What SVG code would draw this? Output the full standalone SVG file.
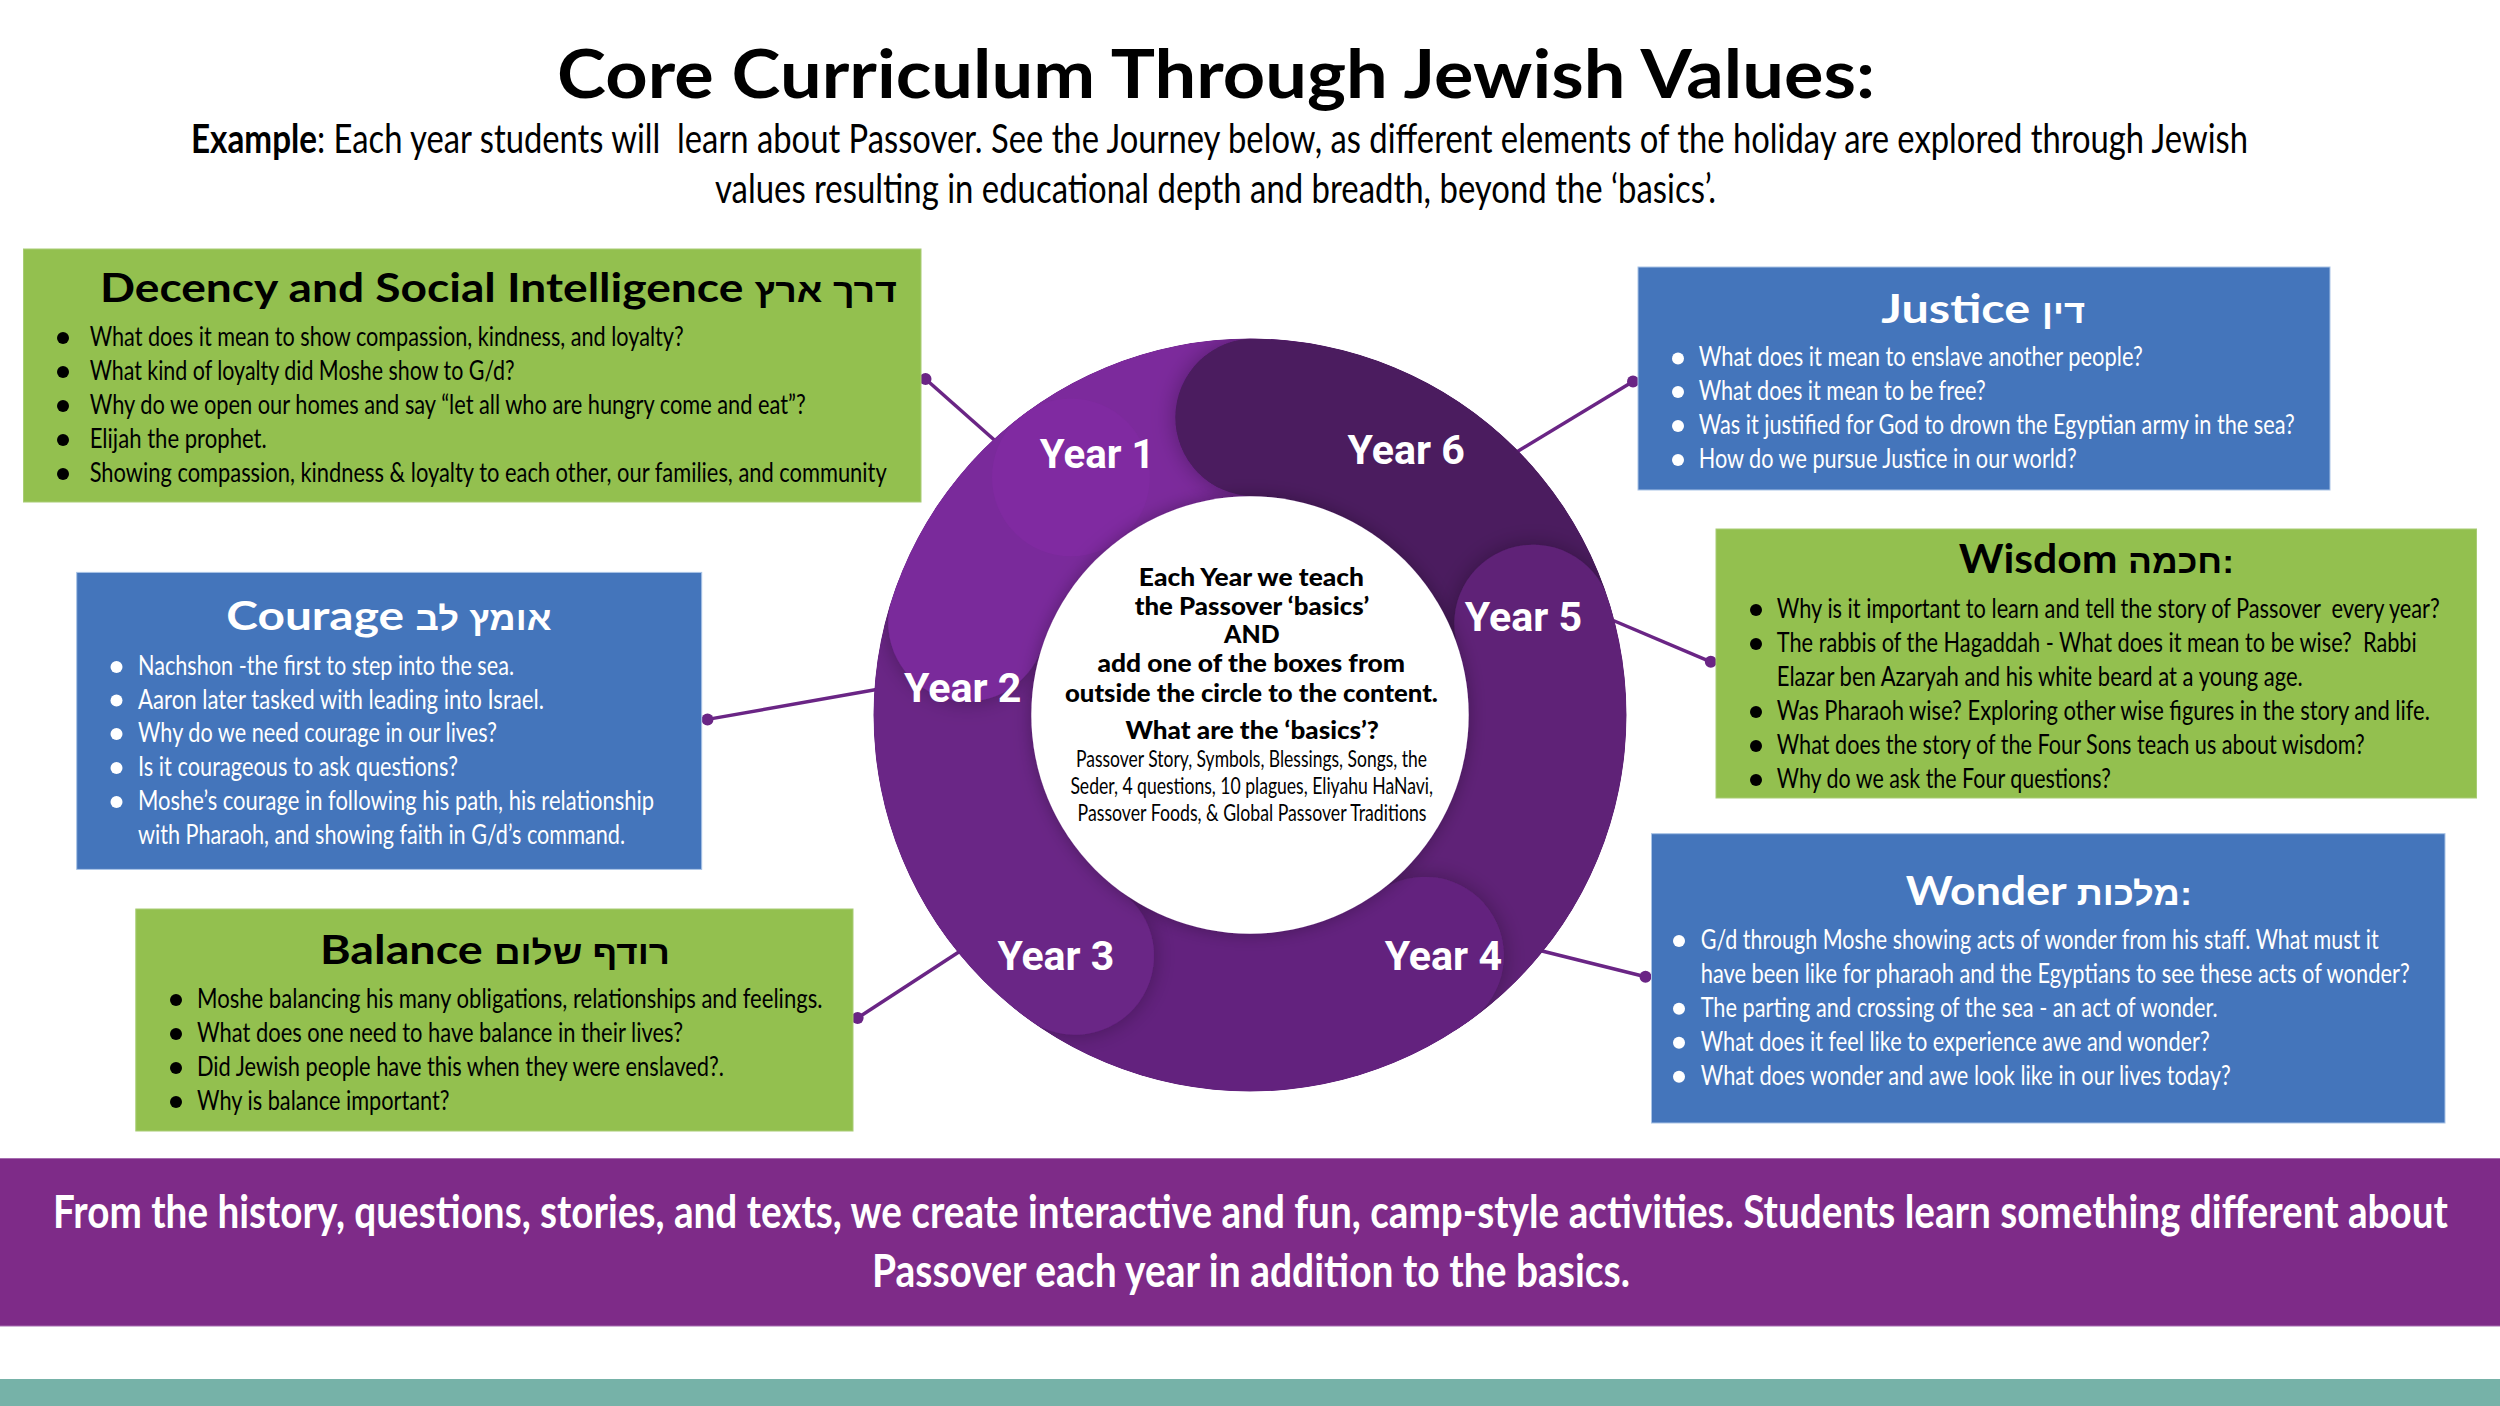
<svg xmlns="http://www.w3.org/2000/svg" width="2500" height="1406" viewBox="0 0 2500 1406">
<style>
text{white-space:pre}
.main{font:700 66px "Lato","Liberation Sans",sans-serif;fill:#000}
.sub{font:400 40px "Lato","Noto Sans",sans-serif;fill:#000}
.subb{font:700 40px "Lato","Noto Sans",sans-serif;fill:#000}
.ban{font:700 46px "Lato","Noto Sans",sans-serif;fill:#fff}
.t{font:700 40px "Lato","Liberation Sans",sans-serif}
.he{font:700 33px "Liberation Sans",sans-serif}
.b{font:400 26px "Lato","Noto Sans",sans-serif}
.k text{fill:#000}.w text{fill:#fff}
.k circle{fill:#000}.w circle{fill:#fff}
.k rect{fill:#93c04f;stroke:#a8cc74;stroke-width:1}
.w rect{fill:#4475bb;stroke:#a9c4e6;stroke-width:1}
.ln{stroke:#6a2585;stroke-width:3.5;fill:none}
.dot{fill:#6a2585}
.yr{font:700 40px "Roboto","Liberation Sans",sans-serif;fill:#fff}
.c1{font:900 24px "Lato","Liberation Sans",sans-serif;fill:#000}
.c2{font:400 24px "Lato","Noto Sans",sans-serif;fill:#000}
.seg{filter:url(#sh)}
</style>
<defs>
<filter id="sh" x="-25%" y="-25%" width="150%" height="150%"><feDropShadow dx="0" dy="0" stdDeviation="11" flood-color="#000" flood-opacity="0.3"/></filter>
<filter id="cs" x="-15%" y="-15%" width="130%" height="130%"><feDropShadow dx="0" dy="0" stdDeviation="9" flood-color="#000" flood-opacity="0.3"/></filter>
<clipPath id="ringclip"><circle cx="1250" cy="715" r="376.5"/></clipPath>
</defs>
<rect width="2500" height="1406" fill="#fff"/>

<g id="heading">
<text class="main" x="557" y="98" textLength="1318" lengthAdjust="spacingAndGlyphs">Core Curriculum Through Jewish Values:</text>
<text class="subb" transform="translate(191 153) scale(.7 1)" textLength="180" lengthAdjust="spacingAndGlyphs">Example</text>
<text class="sub" transform="translate(317 153) scale(.75 1)" textLength="2574.7" lengthAdjust="spacingAndGlyphs">: Each year students will  learn about Passover. See the Journey below, as different elements of the holiday are explored through Jewish</text>
<text class="sub" x="715" y="203" textLength="1001" lengthAdjust="spacingAndGlyphs">values resulting in educational depth and breadth, beyond the ‘basics’.</text>
</g>

<g id="connectors">
<line class="ln" x1="925.5" y1="379" x2="1000" y2="445"/><circle class="dot" cx="925.5" cy="379" r="6"/>
<line class="ln" x1="1633" y1="381.6" x2="1510" y2="456"/><circle class="dot" cx="1633" cy="381.6" r="6"/>
<line class="ln" x1="1710.8" y1="661.8" x2="1605" y2="617"/><circle class="dot" cx="1710.8" cy="661.8" r="6"/>
<line class="ln" x1="707.5" y1="719.4" x2="885" y2="688"/><circle class="dot" cx="707.5" cy="719.4" r="6"/>
<line class="ln" x1="857.6" y1="1018" x2="968" y2="946"/><circle class="dot" cx="857.6" cy="1018" r="6"/>
<line class="ln" x1="1645.5" y1="976.8" x2="1534" y2="949"/><circle class="dot" cx="1645.5" cy="976.8" r="6"/>
</g>

<g id="decency" class="k">
<rect x="23.5" y="249" width="897.5" height="253"/>
<text class="t" x="100" y="301.7"><tspan textLength="654.5" lengthAdjust="spacingAndGlyphs">Decency and Social Intelligence </tspan><tspan class="he" textLength="142.5" lengthAdjust="spacingAndGlyphs">דרך ארץ</tspan></text>
<circle cx="63" cy="338" r="6"/><text class="b" x="89.7" y="345.7" textLength="594" lengthAdjust="spacingAndGlyphs">What does it mean to show compassion, kindness, and loyalty?</text>
<circle cx="63" cy="372" r="6"/><text class="b" x="89.7" y="379.7" textLength="425" lengthAdjust="spacingAndGlyphs">What kind of loyalty did Moshe show to G/d?</text>
<circle cx="63" cy="406" r="6"/><text class="b" x="89.7" y="413.7" textLength="716" lengthAdjust="spacingAndGlyphs">Why do we open our homes and say “let all who are hungry come and eat”?</text>
<circle cx="63" cy="440" r="6"/><text class="b" x="89.7" y="447.7" textLength="177" lengthAdjust="spacingAndGlyphs">Elijah the prophet.</text>
<circle cx="63" cy="474" r="6"/><text class="b" x="89.7" y="481.7" textLength="797" lengthAdjust="spacingAndGlyphs">Showing compassion, kindness &amp; loyalty to each other, our families, and community</text>
</g>

<g id="justice" class="w">
<rect x="1638" y="267" width="692" height="223"/>
<text class="t" x="1881.3" y="322.5"><tspan textLength="160.7" lengthAdjust="spacingAndGlyphs">Justice </tspan><tspan class="he" textLength="43" lengthAdjust="spacingAndGlyphs">דין</tspan></text>
<circle cx="1678" cy="358.4" r="6"/><text class="b" x="1698.7" y="366.4" textLength="444" lengthAdjust="spacingAndGlyphs">What does it mean to enslave another people?</text>
<circle cx="1678" cy="392" r="6"/><text class="b" x="1698.7" y="400" textLength="287" lengthAdjust="spacingAndGlyphs">What does it mean to be free?</text>
<circle cx="1678" cy="426" r="6"/><text class="b" x="1698.7" y="434" textLength="596" lengthAdjust="spacingAndGlyphs">Was it justified for God to drown the Egyptian army in the sea?</text>
<circle cx="1678" cy="460" r="6"/><text class="b" x="1698.7" y="468" textLength="378" lengthAdjust="spacingAndGlyphs">How do we pursue Justice in our world?</text>
</g>

<g id="wisdom" class="k">
<rect x="1716" y="529" width="760.5" height="269"/>
<text class="t" x="1958.8" y="573"><tspan textLength="169.2" lengthAdjust="spacingAndGlyphs">Wisdom </tspan><tspan class="he" textLength="106" lengthAdjust="spacingAndGlyphs">חכמה:</tspan></text>
<circle cx="1756" cy="610" r="6"/><text class="b" transform="translate(1776.8 618) scale(.75 1)" textLength="884" lengthAdjust="spacingAndGlyphs">Why is it important to learn and tell the story of Passover  every year?</text>
<circle cx="1756" cy="644" r="6"/><text class="b" transform="translate(1776.8 652) scale(.75 1)" textLength="853.3" lengthAdjust="spacingAndGlyphs">The rabbis of the Hagaddah - What does it mean to be wise?  Rabbi</text>
<text class="b" x="1776.8" y="685.8" textLength="526" lengthAdjust="spacingAndGlyphs">Elazar ben Azaryah and his white beard at a young age.</text>
<circle cx="1756" cy="712" r="6"/><text class="b" transform="translate(1776.8 719.7) scale(.75 1)" textLength="870.7" lengthAdjust="spacingAndGlyphs">Was Pharaoh wise? Exploring other wise figures in the story and life.</text>
<circle cx="1756" cy="746" r="6"/><text class="b" transform="translate(1776.8 753.6) scale(.75 1)" textLength="784" lengthAdjust="spacingAndGlyphs">What does the story of the Four Sons teach us about wisdom?</text>
<circle cx="1756" cy="780" r="6"/><text class="b" x="1776.8" y="787.5" textLength="334" lengthAdjust="spacingAndGlyphs">Why do we ask the Four questions?</text>
</g>

<g id="courage" class="w">
<rect x="76.7" y="572.4" width="625" height="297"/>
<text class="t" x="226.3" y="630.3"><tspan textLength="189.3" lengthAdjust="spacingAndGlyphs">Courage </tspan><tspan class="he" textLength="136" lengthAdjust="spacingAndGlyphs">אומץ לב</tspan></text>
<circle cx="116.5" cy="667" r="6"/><text class="b" x="138" y="674.7" textLength="376" lengthAdjust="spacingAndGlyphs">Nachshon -the first to step into the sea.</text>
<circle cx="116.5" cy="700.5" r="6"/><text class="b" x="138" y="708.5" textLength="406" lengthAdjust="spacingAndGlyphs">Aaron later tasked with leading into Israel.</text>
<circle cx="116.5" cy="734" r="6"/><text class="b" x="138" y="742.3" textLength="359" lengthAdjust="spacingAndGlyphs">Why do we need courage in our lives?</text>
<circle cx="116.5" cy="768" r="6"/><text class="b" x="138" y="776" textLength="320" lengthAdjust="spacingAndGlyphs">Is it courageous to ask questions?</text>
<circle cx="116.5" cy="802" r="6"/><text class="b" x="138" y="810" textLength="516" lengthAdjust="spacingAndGlyphs">Moshe’s courage in following his path, his relationship</text>
<text class="b" x="138" y="843.8" textLength="487" lengthAdjust="spacingAndGlyphs">with Pharaoh, and showing faith in G/d’s command.</text>
</g>

<g id="balance" class="k">
<rect x="135.8" y="909" width="717.2" height="222"/>
<text class="t" x="320" y="964"><tspan textLength="174" lengthAdjust="spacingAndGlyphs">Balance </tspan><tspan class="he" textLength="176" lengthAdjust="spacingAndGlyphs">רודף שלום</tspan></text>
<circle cx="176" cy="1000" r="6"/><text class="b" x="197" y="1008" textLength="625.5" lengthAdjust="spacingAndGlyphs">Moshe balancing his many obligations, relationships and feelings.</text>
<circle cx="176" cy="1034" r="6"/><text class="b" x="197" y="1042" textLength="486" lengthAdjust="spacingAndGlyphs">What does one need to have balance in their lives?</text>
<circle cx="176" cy="1068" r="6"/><text class="b" x="197" y="1075.8" textLength="527" lengthAdjust="spacingAndGlyphs">Did Jewish people have this when they were enslaved?.</text>
<circle cx="176" cy="1102" r="6"/><text class="b" x="197" y="1109.6" textLength="252.6" lengthAdjust="spacingAndGlyphs">Why is balance important?</text>
</g>

<g id="wonder" class="w">
<rect x="1651.5" y="833.7" width="793.5" height="289.3"/>
<text class="t" x="1905.7" y="905"><tspan textLength="171" lengthAdjust="spacingAndGlyphs">Wonder </tspan><tspan class="he" textLength="115.3" lengthAdjust="spacingAndGlyphs">מלכות:</tspan></text>
<circle cx="1679" cy="941" r="6"/><text class="b" transform="translate(1700.7 949) scale(.75 1)" textLength="904" lengthAdjust="spacingAndGlyphs">G/d through Moshe showing acts of wonder from his staff. What must it</text>
<text class="b" transform="translate(1700.7 982.7) scale(.75 1)" textLength="945.3" lengthAdjust="spacingAndGlyphs">have been like for pharaoh and the Egyptians to see these acts of wonder?</text>
<circle cx="1679" cy="1008.7" r="6"/><text class="b" x="1700.7" y="1016.7" textLength="517" lengthAdjust="spacingAndGlyphs">The parting and crossing of the sea - an act of wonder.</text>
<circle cx="1679" cy="1042.7" r="6"/><text class="b" x="1700.7" y="1050.7" textLength="509" lengthAdjust="spacingAndGlyphs">What does it feel like to experience awe and wonder?</text>
<circle cx="1679" cy="1076.7" r="6"/><text class="b" x="1700.7" y="1084.7" textLength="530" lengthAdjust="spacingAndGlyphs">What does wonder and awe look like in our lives today?</text>
</g>

<g id="ring" clip-path="url(#ringclip)">
<circle cx="1250" cy="715" r="376.5" fill="#6a2585"/>
<path id="year1-body" fill="#7c2a9c" d="M1023.41 414.31A376.5 376.5 0 0 1 1315.38 344.22L1287.98 499.62A218.7 218.7 0 0 0 1118.38 540.34Z"/>
<path id="year6-seg" class="seg" fill="#4b1c5f" d="M1255.26 338.5A376.5 376.5 0 0 1 1613.67 617.55L1461.25 658.4A218.7 218.7 0 0 0 1253.05 496.3A78.9 78.9 0 0 1 1255.26 338.5Z"/>
<path id="year5-seg" class="seg" fill="#5e2277" d="M1608.07 598.65A376.5 376.5 0 0 1 1455.06 1030.76L1369.11 898.42A218.7 218.7 0 0 0 1458 647.42A78.9 78.9 0 0 1 1608.07 598.65Z"/>
<path id="year4-seg" class="seg" fill="#63237e" d="M1471.3 1019.6A376.5 376.5 0 0 1 1013.06 1007.6L1112.37 884.96A218.7 218.7 0 0 0 1378.55 891.93A78.9 78.9 0 0 1 1471.3 1019.6Z"/>
<path id="year3-seg" class="seg" fill="#6a2586" d="M1028.7 1019.6A376.5 376.5 0 0 1 898.5 580.07L1045.83 636.62A218.7 218.7 0 0 0 1121.45 891.93A78.9 78.9 0 0 1 1028.7 1019.6Z"/>
<path id="year2-seg" class="seg" fill="#7a2a9b" d="M891.93 598.65A376.5 376.5 0 0 1 1023.41 414.31L1118.38 540.34A218.7 218.7 0 0 0 1042 647.42A78.9 78.9 0 0 1 891.93 598.65Z"/>
<circle id="year1-head" cx="1070.9" cy="477.3" r="78.9" fill="#802aa1"/>
</g>

<g id="center">
<circle cx="1250" cy="715" r="218.7" fill="#fff" filter="url(#cs)"/>
<text class="c1" x="1138.8" y="585.6" textLength="225.2" lengthAdjust="spacingAndGlyphs">Each Year we teach</text>
<text class="c1" x="1134.7" y="614.7" textLength="234.7" lengthAdjust="spacingAndGlyphs">the Passover ‘basics’</text>
<text class="c1" x="1224" y="643.3" textLength="55.6" lengthAdjust="spacingAndGlyphs">AND</text>
<text class="c1" x="1097.4" y="672.4" textLength="307.6" lengthAdjust="spacingAndGlyphs">add one of the boxes from</text>
<text class="c1" x="1065" y="702" textLength="373" lengthAdjust="spacingAndGlyphs">outside the circle to the content.</text>
<text class="c1" x="1125.5" y="739.3" textLength="253.5" lengthAdjust="spacingAndGlyphs">What are the ‘basics’?</text>
<text class="c2" x="1076" y="767" textLength="351" lengthAdjust="spacingAndGlyphs">Passover Story, Symbols, Blessings, Songs, the</text>
<text class="c2" x="1070.4" y="794" textLength="362.6" lengthAdjust="spacingAndGlyphs">Seder, 4 questions, 10 plagues, Eliyahu HaNavi,</text>
<text class="c2" x="1077.6" y="821" textLength="348.9" lengthAdjust="spacingAndGlyphs">Passover Foods, &amp; Global Passover Traditions</text>
</g>

<g id="year-labels">
<text id="year1" class="yr" x="1039.8" y="467.8" textLength="114.8" lengthAdjust="spacingAndGlyphs">Year 1</text>
<text id="year2" class="yr" x="904" y="702" textLength="117.4" lengthAdjust="spacingAndGlyphs">Year 2</text>
<text id="year3" class="yr" x="997.4" y="969.5" textLength="116.9" lengthAdjust="spacingAndGlyphs">Year 3</text>
<text id="year4" class="yr" x="1384.7" y="969.5" textLength="117.3" lengthAdjust="spacingAndGlyphs">Year 4</text>
<text id="year5" class="yr" x="1464.8" y="631" textLength="117.2" lengthAdjust="spacingAndGlyphs">Year 5</text>
<text id="year6" class="yr" x="1347.5" y="464" textLength="117.3" lengthAdjust="spacingAndGlyphs">Year 6</text>
</g>

<g id="banner">
<rect x="-2" y="1158.5" width="2504" height="167.5" fill="#7e2b88" stroke="#a66cb0" stroke-width="1"/>
<text class="ban" transform="translate(53 1228) scale(.75 1)" textLength="3193.3" lengthAdjust="spacingAndGlyphs">From the history, questions, stories, and texts, we create interactive and fun, camp-style activities. Students learn something different about</text>
<text class="ban" x="872" y="1286.7" textLength="758" lengthAdjust="spacingAndGlyphs">Passover each year in addition to the basics.</text>
</g>
<rect id="footer-band" x="0" y="1379" width="2500" height="27" fill="#76b2a8"/>
</svg>
